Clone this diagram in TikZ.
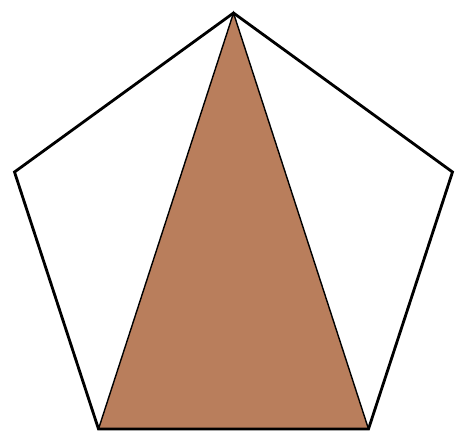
\documentclass[tikz,border=0pt]{standalone}
\definecolor{fillbrown}{RGB}{185,126,92}
\tikzset{
  pentline/.style={draw=black,line width=1.6pt,line join=miter},
  triline/.style={draw=black,fill=fillbrown,line width=0.8pt,line join=miter}
}
\begin{document}
\begin{tikzpicture}[x=0.02cm,y=-0.02cm]
\useasboundingbox (0,0) rectangle (474,447);
\coordinate (T) at (233.5,13);
\coordinate (L) at (14.5,172);
\coordinate (R) at (452.5,172);
\coordinate (BL) at (98.5,429);
\coordinate (BR) at (368.5,429);
\path[triline] (T) -- (BL) -- (BR) -- cycle;
\draw[pentline] (T) -- (R) -- (BR) -- (BL) -- (L) -- cycle;
\end{tikzpicture}
\end{document}
